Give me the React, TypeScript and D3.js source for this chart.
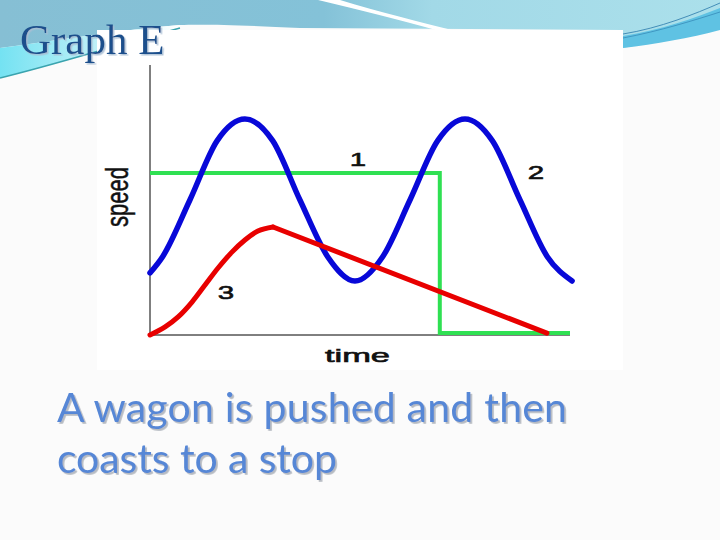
import { useMemo } from 'react';
import * as d3 from "d3";

// values (time 0..10, speed 0..10)
const blueTime = [0, 0.3, 0.95, 1.6, 2.26, 2.92, 3.57, 4.23, 4.88, 5.54, 6.19, 6.85, 7.5, 8.15, 8.81, 9.46, 10.05];
const blueSpeed = [2.3, 2.9, 5.0, 7.2, 8.0, 7.2, 5.0, 2.9, 2.0, 2.9, 5.0, 7.2, 8.0, 7.2, 5.0, 2.9, 2.0];

const redTime = [0, 0.36, 0.67, 1.0, 1.31, 1.62, 1.95, 2.26, 2.57, 2.93, 9.45];
const redSpeed = [0, 0.3, 0.67, 1.22, 1.85, 2.48, 3.07, 3.52, 3.85, 4.0, 0.07];

const greenTime = [0, 6.9, 10];
const greenSpeed = [6, 0.07, 0.07];

const seriesNames = ["1", "2", "3"];

const title = "Graph E";
const captionLines = ["A wagon is pushed and then", "coasts to a stop"];

type Pt = [number, number];
const zip = (t: number[], s: number[]): Pt[] => t.map((v, i) => [v, s[i]]);

const sans = "Liberation Sans, Arial, sans-serif";

export default function App() {
     const width = 720;
     const height = 540;

     const x = d3.scaleLinear().domain([0, 10]).range([150, 570]);
     const y = d3.scaleLinear().domain([0, 10]).range([335, 65]);

     const paths = useMemo(() => {
          const line = (curve: d3.CurveFactory) =>
               d3.line<Pt>().x(d => x(d[0])).y(d => y(d[1])).curve(curve);
          const red = zip(redTime, redSpeed);
          const peak = red.length - 2;
          return {
               blue: line(d3.curveMonotoneX)(zip(blueTime, blueSpeed)) || "",
               redRise: line(d3.curveMonotoneX)(red.slice(0, peak + 1)) || "",
               redCoast: line(d3.curveLinear)(red.slice(peak)) || "",
               green: line(d3.curveStepAfter)(zip(greenTime, greenSpeed)) || "",
          };
     }, []);

     const num = (label: string, t: number, s: number, key: string) => (
          <text
               key={key}
               transform={`translate(${x(t)},${y(s)}) scale(1.55,1)`}
               textAnchor="middle"
               fontFamily={sans}
               fontSize={19}
               fill="#111"
               stroke="#111"
               strokeWidth={0.6}
          >{label}</text>
     );

     return (
          <div style={{ position: "absolute", left: 0, top: 0 }}>
               <svg width={width} height={height} style={{ display: "block" }}>
                    <defs>
                         <linearGradient id="band" x1="0" x2="1" y1="0" y2="0">
                              <stop offset="0%" stopColor="#86bfd4" />
                              <stop offset="45%" stopColor="#84c2d8" />
                              <stop offset="60%" stopColor="#a2d9e7" />
                              <stop offset="100%" stopColor="#abe0eb" />
                         </linearGradient>
                         <linearGradient id="cyan" x1="0" x2="1" y1="0" y2="0">
                              <stop offset="0%" stopColor="#74e2f2" />
                              <stop offset="60%" stopColor="#c8f2f8" />
                              <stop offset="100%" stopColor="#ffffff" />
                         </linearGradient>
                         <filter id="titleShadow" x="-10%" y="-20%" width="130%" height="150%">
                              <feDropShadow dx={1.5} dy={1.5} stdDeviation={0.4} floodColor="#a9bed3" floodOpacity={0.9} />
                         </filter>
                         <filter id="capShadow" x="-5%" y="-20%" width="115%" height="150%">
                              <feDropShadow dx={1.8} dy={1.8} stdDeviation={0.5} floodColor="#9ea4ae" floodOpacity={0.75} />
                         </filter>
                    </defs>

                    {/* slide background */}
                    <rect width={width} height={height} fill="#fbfbfb" />
                    <path d="M0,0 H720 V26 C690,34 655,42 623,48 L623,30 L300,28 C240,25 200,24 180,25 C120,30 60,40 0,48 Z" fill="url(#band)" />
                    <path d="M0,48 C60,40 120,30 180,25 L180,28 C100,50 50,66 0,78 Z" fill="url(#cyan)" />
                    <path d="M0,78 C50,66 100,50 180,28" fill="none" stroke="#3aa3ae" strokeWidth={1.4} />
                    <path d="M318,0 L340,0 C380,12 420,22 452,30 L436,30 C400,20 360,10 318,0 Z" fill="#ffffff" />
                    <path d="M623,36 C660,30 695,18 720,8 L720,30 C690,38 655,44 623,48 Z" fill="#5fc2e3" />
                    <path d="M623,34 C660,28 695,14 720,3" fill="none" stroke="#2a78ab" strokeWidth={0.8} />
                    <path d="M623,38 C660,31 695,20 720,12" fill="none" stroke="#2a78ab" strokeWidth={0.6} />

                    {/* chart picture */}
                    <rect x={97} y={30} width={526} height={340} fill="#ffffff" />

                    <line x1={x(0)} x2={x(0)} y1={y(0)} y2={y(10)} stroke="#000" strokeWidth={1} />
                    <line x1={x(0)} x2={x(10)} y1={y(0)} y2={y(0)} stroke="#000" strokeWidth={1} />

                    <path d={paths.green} fill="none" stroke="#2fe052" strokeWidth={4} strokeLinejoin="miter" />
                    <path d={paths.blue} fill="none" stroke="#0808d8" strokeWidth={5.5} strokeLinecap="round" />
                    <path d={paths.redRise} fill="none" stroke="#e80000" strokeWidth={5} strokeLinecap="round" />
                    <path d={paths.redCoast} fill="none" stroke="#e80000" strokeWidth={5} strokeLinecap="round" />

                    {num(seriesNames[0], 4.95, 6.26, "n1")}
                    {num(seriesNames[1], 9.19, 5.78, "n2")}
                    {num(seriesNames[2], 1.81, 1.33, "n3")}

                    <text
                         transform={`translate(${x(0) - 22},${y(4)}) rotate(-90)`}
                         fontFamily={sans}
                         fontSize={31}
                         textLength={60}
                         lengthAdjust="spacingAndGlyphs"
                         fill="#111"
                         stroke="#111"
                         strokeWidth={0.5}
                    >speed</text>
                    <text
                         x={325}
                         y={362}
                         fontFamily={sans}
                         fontSize={18}
                         textLength={65}
                         lengthAdjust="spacingAndGlyphs"
                         fill="#111"
                         stroke="#111"
                         strokeWidth={0.6}
                    >time</text>

                    {/* title */}
                    <text x={20} y={54} fontFamily="Liberation Serif, Times New Roman, serif" fontSize={43} fill="#1c4f8c" filter="url(#titleShadow)">{title}</text>

                    {/* caption */}
                    {captionLines.map((l, i) => (
                         <text
                              key={i}
                              x={57}
                              y={422 + i * 51}
                              fontFamily="Lato, Open Sans, sans-serif"
                              fontSize={41}
                              fill="#5787d6"
                              textLength={i === 0 ? 510 : 280}
                              lengthAdjust="spacing"
                              filter="url(#capShadow)"
                         >{l}</text>
                    ))}
               </svg>
          </div>
     );
}
